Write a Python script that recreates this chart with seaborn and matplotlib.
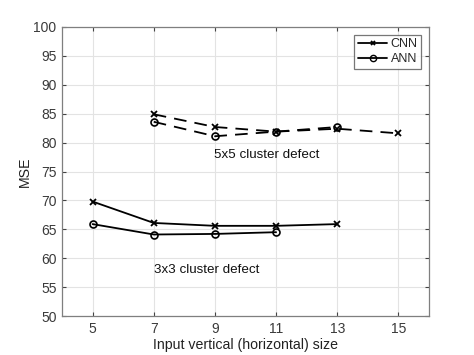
import matplotlib
matplotlib.use("Agg")
import matplotlib.pyplot as plt
import seaborn as sns
import pandas as pd
from matplotlib.lines import Line2D

sizes_cnn = [5, 7, 9, 11, 13]
cnn_3x3 = [69.8, 66.1, 65.6, 65.6, 65.9]
sizes_ann = [5, 7, 9, 11]
ann_3x3 = [65.9, 64.1, 64.2, 64.5]
sizes_cnn5 = [7, 9, 11, 13, 15]
cnn_5x5 = [84.9, 82.7, 81.9, 82.4, 81.6]
sizes_ann5 = [7, 9, 11, 13]
ann_5x5 = [83.6, 81.1, 81.9, 82.7]
xticks = [5, 7, 9, 11, 13, 15]
yticks = [50, 55, 60, 65, 70, 75, 80, 85, 90, 95, 100]

sns.set_style("white")
plt.rcParams['font.family'] = ['Liberation Sans', 'DejaVu Sans']

fig = plt.figure(figsize=(4.74, 3.55), dpi=100)
ax = fig.add_axes([62/474, 1-316/355, (429-62)/474, (316-27)/355])

def draw(x, y, marker, ls, ms, mew):
    df = pd.DataFrame({"x": x, "y": y})
    sns.lineplot(data=df, x="x", y="y", ax=ax, color="black", linestyle=ls,
                 marker=marker, markersize=ms, markeredgewidth=mew,
                 markerfacecolor="none", markeredgecolor="black",
                 linewidth=1.3, legend=False)

dash = (0, (7, 4.5))
draw(sizes_cnn, cnn_3x3, "x", "-", 4, 1.3)
draw(sizes_ann, ann_3x3, "o", "-", 5, 1.2)
draw(sizes_cnn5, cnn_5x5, "x", dash, 4, 1.3)
draw(sizes_ann5, ann_5x5, "o", dash, 5, 1.2)

ax.set_xlim(4, 16)
ax.set_ylim(50, 100)
ax.set_xticks(xticks)
ax.set_yticks(yticks)
ax.grid(True, color="#e3e3e3", linewidth=0.8)
ax.tick_params(direction="in", length=3, color="#444444", labelsize=10,
               labelcolor="#3a3a3a", top=True, right=True, left=True, bottom=True, pad=4)
for s in ax.spines.values():
    s.set_color("#7f7f7f")
    s.set_linewidth(0.9)
ax.set_xlabel("Input vertical (horizontal) size", fontsize=10.2, color="#222222", labelpad=2)
ax.set_ylabel("MSE", fontsize=10.2, color="#222222", labelpad=1)

ax.text(8.97, 77.9, "5x5 cluster defect", fontsize=9.6, va="center", ha="left", color="#111111")
ax.text(7.0, 58.0, "3x3 cluster defect", fontsize=9.6, va="center", ha="left", color="#111111")

handles = [
    Line2D([], [], color="black", marker="x", markersize=3.5, markeredgewidth=1.3, linewidth=1.3),
    Line2D([], [], color="black", marker="o", markersize=4.5, markerfacecolor="none", linewidth=1.3),
]
leg = ax.legend(handles, ["CNN", "ANN"], loc="upper right", fontsize=9, frameon=True,
                fancybox=False, edgecolor="#555555", handlelength=2.3, handletextpad=0.3,
                borderpad=0.3, labelspacing=0.25, borderaxespad=0.6)
leg.get_frame().set_linewidth(0.9)

fig.savefig("out.png", dpi=100, facecolor="white")
